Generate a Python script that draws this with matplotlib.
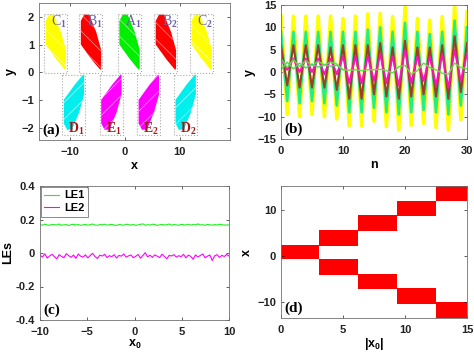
import numpy as np
import matplotlib
matplotlib.use("Agg")
import matplotlib.pyplot as plt

plt.rcParams['font.family'] = ['Liberation Sans', 'DejaVu Sans']
plt.rcParams['font.weight'] = 'bold'
plt.rcParams['axes.labelweight'] = 'bold'
plt.rcParams['hatch.linewidth'] = 0.5
plt.rcParams['mathtext.fontset'] = 'custom'
plt.rcParams['mathtext.rm'] = 'Liberation Serif'
plt.rcParams['mathtext.sf'] = 'Liberation Sans:bold'

# ---- panel (a) data: attractor positions and outline template
upper_names = ['C$_1$', 'B$_1$', 'A$_1$', 'B$_2$', 'C$_2$']
upper_cx = [-12.6, -6.2, 0.8, 7.4, 13.9]
upper_colors = ['#ffff00', '#ff0000', '#00ee00', '#ff0000', '#ffff00']
upper_light = ['#ffffa0', '#ff9090', '#a0ffa0', '#ff9090', '#ffffa0']
lower_names = ['D$_1$', 'E$_1$', 'E$_2$', 'D$_2$']
lower_cx = [-9.3, -2.5, 4.3, 11.0]
lower_colors = ['#00eeee', '#ff00ff', '#ff00ff', '#00eeee']
lower_light = ['#b0ffff', '#ffa0ff', '#ffa0ff', '#b0ffff']
shape_dx = [-1.2, -0.3, 1.0, 1.9, 1.9, 1.75, 0.2, -1.8, -1.8]
shape_dy = [2.08, 2.08, 1.45, 0.8, 0.15, 0.08, 0.45, 1.0, 1.85]

# ---- panel (b) data: time series
n = np.arange(31)
y_yellow = [12.5, -9.5, 12.5, -10, 12.5, -9.5, 12.5, -10, 12.5, -10.5, 12, -12, 12.5, -12, 13, -11,
            13.1, -12.2, 12.4, -13, 14.6, -11.9, 12, -11.5, 11.6, -12.4, 12.4, -13, 15, -10.7, 13.5]
y_green = [9, -6.5, 9, -7, 9, -6.5, 9, -7, 9, -7.5, 9, -9, 9, -9, 9.5, -8,
           10, -9, 9, -9.5, 11, -9, 9, -8.5, 8.5, -9, 9, -9.5, 11.5, -7.5, 10]
y_brown = [6, -3, 6, -3.5, 6, -3.5, 6, -3.5, 5.5, -4, 6, -6, 6, -6, 6, -5,
           6.5, -5.5, 5.5, -6, 7, -5.5, 5.5, -5, 5.5, -5.5, 6, -6, 8, -4.5, 6.5]
y_magenta = [3, 0.5, 3, 0, 3, 0, 3, -0.5, 3, -0.5, 3.5, -2.5, 3.5, -2.5, 3.5, -2,
             4, -2.5, 3.5, -3, 5, -2.5, 3.5, -2, 3.5, -3, 4, -3.5, 5, -2, 4]
y_lg1 = [3, 1, 2.8, 1.2, 2.6, 1.4, 2.4, 1.6, 2.2, 1.8, 0.5, 0.4, 0.5, 0.3, 0.5, 0.5,
         0.6, 0.3, -0.2, 1.2, 1.5, -0.5, 0.3, 2, 1, 0.5, -0.3, -0.5, 2, 1, 0.7]
y_lg2 = [0.5, 2.2, 0.7, 2.0, 0.9, 1.8, 1.1, 1.6, 1.3, 1.5, 0.5]

# ---- panel (c) data: Lyapunov exponents
le1 = [0.170, 0.166, 0.172, 0.168, 0.165, 0.171, 0.169, 0.167, 0.173, 0.166,
       0.168, 0.170, 0.164, 0.169, 0.172, 0.167, 0.170, 0.165, 0.168, 0.171,
       0.166, 0.169, 0.173, 0.167, 0.165, 0.170, 0.168, 0.172, 0.166, 0.169,
       0.171, 0.167, 0.164, 0.170, 0.168, 0.166, 0.172, 0.169, 0.167, 0.170,
       0.165, 0.168, 0.171, 0.174, 0.166, 0.169, 0.167, 0.172, 0.170, 0.165,
       0.168, 0.171, 0.167, 0.169, 0.173, 0.166, 0.170, 0.168, 0.165, 0.171,
       0.169, 0.167, 0.172, 0.166, 0.170, 0.168, 0.174, 0.167, 0.169, 0.165,
       0.171, 0.168, 0.166, 0.170, 0.167, 0.172, 0.169, 0.166, 0.168, 0.167]
le2 = [-0.012, -0.025, -0.005, -0.030, -0.018, -0.008, -0.022, -0.035, -0.010, -0.020,
       -0.028, -0.004, -0.016, -0.026, -0.012, -0.032, -0.006, -0.019, -0.024, -0.011,
       -0.029, -0.015, -0.002, -0.021, -0.033, -0.013, -0.018, -0.008, -0.027, -0.016,
       -0.022, -0.010, -0.030, -0.014, -0.019, -0.006, -0.025, -0.017, -0.012, -0.028,
       -0.020, -0.009, -0.031, -0.015, 0.002, -0.023, -0.013, -0.026, -0.011, -0.019,
       -0.027, -0.007, -0.021, -0.034, -0.014, -0.018, -0.010, -0.025, -0.016, -0.022,
       -0.008, -0.029, -0.013, -0.020, -0.037, -0.011, -0.024, -0.015, -0.006, -0.028,
       -0.019, -0.012, -0.045, -0.017, -0.010, -0.026, -0.014, -0.021, -0.009, -0.018]

# ---- panel (d) data: blocks of x versus |x0|
blk_left = [0, 3.07, 3.07, 6.2, 6.2, 9.35, 9.35, 12.53, 12.53]
blk_right = [3.07, 6.2, 6.2, 9.35, 9.35, 12.53, 12.53, 15, 15]
blk_low = [-0.7, 2.3, -4.0, 5.45, -7.1, 8.7, -10.4, 12.0, -13.45]
blk_high = [2.55, 5.8, -0.6, 8.9, -3.8, 12.1, -6.9, 15.3, -10.0]

W, H = 474, 356
fig = plt.figure(figsize=(W / 100, H / 100), dpi=100)


def add_ax(l, t, r, b):
    return fig.add_axes([l / W, 1 - b / H, (r - l) / W, (b - t) / H])


def style(ax):
    ax.tick_params(direction='in', top=True, right=True, length=2.5, width=0.5,
                   labelsize=8, colors='#222222')
    ax.tick_params(axis='x', pad=5)
    ax.tick_params(axis='y', pad=3.5)
    for s in ax.spines.values():
        s.set_color('#707070')
        s.set_linewidth(0.6)


def panel_label(ax, txt):
    ax.text(0.02, 0.02, txt, transform=ax.transAxes, family='Liberation Serif',
            fontweight='bold', fontsize=11, va='bottom', ha='left')


# (a)
ax = add_ax(39, 3, 230, 140)
for cx, name, c, lc in zip(upper_cx, upper_names, upper_colors, upper_light):
    ax.plot([cx - 2.1, cx + 2.1, cx + 2.1, cx - 2.1, cx - 2.1], [2.1, 2.1, -0.04, -0.04, 2.1],
            ls=':', color='#a8a8a8', lw=0.8)
    ax.fill(np.array(shape_dx) + cx, shape_dy, fc=c, ec=lc, hatch='\\\\', lw=0)
    ax.text(cx + 0.7, 1.82, name, family='Liberation Serif', fontsize=10, color='#6a5fa8',
            ha='center', va='center', fontweight='normal')
for cx, name, c, lc in zip(lower_cx, lower_names, lower_colors, lower_light):
    ax.plot([cx - 2.1, cx + 2.1, cx + 2.1, cx - 2.1, cx - 2.1], [-0.1, -0.1, -2.27, -2.27, -0.1],
            ls=':', color='#a8a8a8', lw=0.8)
    ax.fill(np.array(shape_dx) + cx, -np.array(shape_dy), fc=c, ec=lc, hatch='//', lw=0)
    ax.text(cx + 0.5, -2.03, name, family='Liberation Serif', fontsize=10, color='#a01818',
            ha='center', va='center')
ax.set_xlim(-15.6, 19.1)
ax.set_ylim(-2.45, 2.5)
ax.set_xticks([-10, 0, 10])
ax.set_yticks([-2, -1, 0, 1, 2])
ax.set_xlabel('x', fontsize=9, labelpad=2)
ax.set_ylabel('y', fontsize=9, labelpad=3)
style(ax)
panel_label(ax, '(a)')

# (b)
ax = add_ax(281, 5, 467, 139)
ax.plot(n, y_yellow, color='#ffff00', lw=2.6)
ax.plot(n, y_green, color='#22ee88', lw=1.9)
ax.plot(n, y_brown, color='#a03c28', lw=1.5)
ax.plot(n, y_magenta, color='#ff10c0', lw=1.4)
ax.plot(n, y_lg1, color='#66dd44', lw=1.0)
ax.plot(n[:len(y_lg2)], y_lg2, color='#44dd66', lw=1.0)
ax.set_xlim(0, 30)
ax.set_ylim(-15, 15)
ax.set_xticks([0, 10, 20, 30])
ax.set_yticks([-15, -10, -5, 0, 5, 10, 15])
ax.set_xlabel('n', fontsize=9, labelpad=2)
ax.set_ylabel('y', fontsize=9, labelpad=1)
style(ax)
panel_label(ax, '(b)')

# (c)
ax = add_ax(40, 186, 229, 320)
x0 = np.linspace(-10, 10, len(le1))
ax.plot(x0, le1, color='#22ee22', lw=0.8, label='LE1')
ax.plot(x0, le2, color='#ff00ff', lw=0.8, label='LE2')
ax.set_xlim(-10, 10)
ax.set_ylim(-0.4, 0.4)
ax.set_xticks([-10, -5, 0, 5, 10])
ax.set_yticks([-0.4, -0.2, 0, 0.2, 0.4])
ax.set_yticklabels(['-0.4', '-0.2', '0', '0.2', '0.4'])
ax.set_xlabel(r'$\mathsf{x}_\mathsf{0}$', fontsize=9, labelpad=1)
ax.set_ylabel('LEs', fontsize=9, labelpad=1)
leg = ax.legend(loc='upper left', fontsize=8, borderaxespad=0.1, handlelength=1.3,
                handletextpad=0.5, labelspacing=0.25, fancybox=False, borderpad=0.3)
leg.get_frame().set_edgecolor('#333333')
leg.get_frame().set_linewidth(0.5)
style(ax)
panel_label(ax, '(c)')

# (d)
ax = add_ax(281, 186, 467, 318)
ax.bar(blk_left, np.array(blk_high) - np.array(blk_low),
       width=np.array(blk_right) - np.array(blk_left), bottom=blk_low,
       align='edge', color='#ff0000', lw=0)
ax.set_xlim(0, 15)
ax.set_ylim(-13.45, 15.3)
ax.set_xticks([0, 5, 10, 15])
ax.set_yticks([-10, 0, 10])
ax.set_xlabel(r'$\mathsf{|x}_\mathsf{0}\mathsf{|}$', fontsize=9, labelpad=1)
ax.set_ylabel('x', fontsize=9, labelpad=3)
style(ax)
panel_label(ax, '(d)')

fig.savefig('out.png', dpi=100, facecolor='white')
